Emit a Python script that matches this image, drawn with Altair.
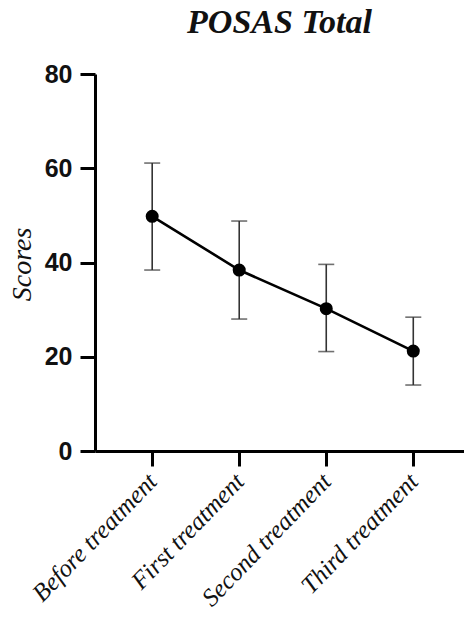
import altair as alt
import pandas as pd

# values
groups = ["Before treatment", "First treatment", "Second treatment", "Third treatment"]
mean_scores = [49.8, 38.4, 30.2, 21.2]
upper = [61.1, 48.8, 39.6, 28.4]
lower = [38.4, 28.0, 21.1, 14.0]

df = pd.DataFrame({"group": groups, "score": mean_scores, "hi": upper, "lo": lower})

x = alt.X(
    "group:N",
    sort=groups,
    title=None,
    scale=alt.Scale(type="point", padding=0.62, align=0.53),
    axis=alt.Axis(
        labelAngle=-46,
        labelAlign="right",
        labelBaseline="middle",
        labelPadding=11,
        labelFont="Liberation Serif",
        labelFontStyle="italic",
        labelFontSize=25,
        labelColor="#111",
        labelLimit=300,
    ),
)
y_axis = alt.Axis(
    values=[0, 20, 40, 60, 80],
    labelFont="Liberation Sans",
    labelFontWeight="bold",
    labelFontSize=25,
    labelPadding=8,
    labelColor="#111",
    title="Scores",
    titleFont="Liberation Serif",
    titleFontStyle="italic",
    titleFontWeight="normal",
    titleFontSize=28,
    titleColor="#111",
    titleX=-59,
    titleY=190,
)

base = alt.Chart(df)

bars = base.mark_rule(color="#333", strokeWidth=1.6).encode(
    x=x, y=alt.Y("lo:Q", scale=alt.Scale(domain=[0, 80]), axis=y_axis), y2="hi:Q"
)
cap_hi = base.mark_tick(color="#333", thickness=1.6, size=16, orient="horizontal").encode(x=x, y="hi:Q")
cap_lo = base.mark_tick(color="#333", thickness=1.6, size=16, orient="horizontal").encode(x=x, y="lo:Q")
line = base.mark_line(color="black", strokeWidth=2.6).encode(x=x, y="score:Q")
pts = base.mark_circle(color="black", opacity=1, size=170).encode(x=x, y="score:Q")

chart = (
    (bars + cap_hi + cap_lo + line + pts)
    .properties(
        width=369,
        height=377,
        autosize=alt.AutoSizeParams(type="none"),
        padding={"left": 87, "top": 66, "right": 0, "bottom": 160},
        title=alt.Title(
            "POSAS Total",
            font="Liberation Serif",
            fontStyle="italic",
            fontWeight="bold",
            fontSize=34,
            color="#111",
            frame="group",
            anchor="middle",
            offset=22,
        ),
    )
    .configure_view(stroke=None)
    .configure_axis(
        grid=False,
        domainColor="black",
        domainWidth=3,
        tickColor="black",
        tickWidth=3,
        tickSize=15,
    )
)

chart.save("out.html", embed_options={"renderer": "svg", "actions": False})
